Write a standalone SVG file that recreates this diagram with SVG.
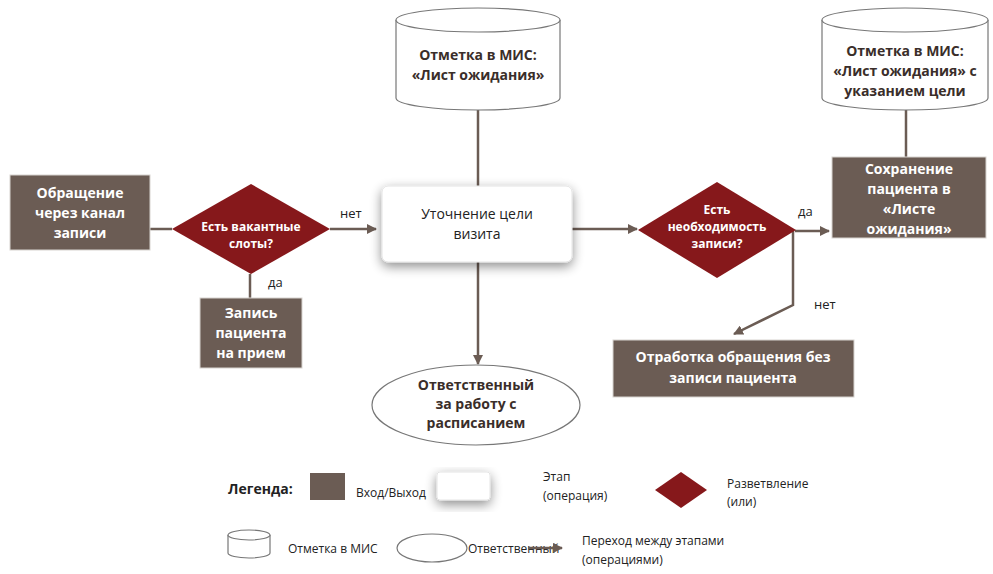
<svg xmlns="http://www.w3.org/2000/svg" width="993" height="574" viewBox="0 0 993 574">
<defs>
<style>
text{font-family:"Open Sans","Liberation Sans",sans-serif;}
.io{fill:#6b5c54;stroke:#d8d4d0;stroke-width:1}
.iot{fill:#fff;font-size:14px;font-weight:bold;text-anchor:middle}
.dm{fill:#86181b}
.dmt{fill:#fff;font-size:12px;font-weight:bold;text-anchor:middle}
.cyl{fill:#fff;stroke:#777;stroke-width:1.2}
.dt{fill:#3a2e2a;font-size:14px;font-weight:bold;text-anchor:middle}
.ln{stroke:#6b5c54;stroke-width:2.5;fill:none}
.lb{fill:#222;font-size:13px}
.lg{fill:#222;font-size:12px}
</style>
<marker id="ar" viewBox="0 0 10 10" refX="9" refY="5" markerWidth="4" markerHeight="4" orient="auto"><path d="M0,0L10,5L0,10z" fill="#6b5c54"/></marker>
<filter id="sh" x="-30%" y="-30%" width="160%" height="170%"><feGaussianBlur in="SourceAlpha" stdDeviation="6"/><feOffset dy="4"/><feComponentTransfer><feFuncA type="linear" slope="0.45"/></feComponentTransfer><feMerge><feMergeNode/><feMergeNode in="SourceGraphic"/></feMerge></filter>
</defs>
<rect width="993" height="574" fill="#fff"/>
<g id="connectors">
<line class="ln" x1="150" y1="229" x2="172" y2="229"/>
<line class="ln" x1="330" y1="229" x2="376" y2="229" marker-end="url(#ar)"/>
<text class="lb" x="340" y="218">нет</text>
<line class="ln" x1="250" y1="274" x2="250" y2="298"/>
<text class="lb" x="268" y="287">да</text>
<line class="ln" x1="478" y1="110" x2="478" y2="186"/>
<line class="ln" x1="478" y1="262" x2="478" y2="364" marker-end="url(#ar)"/>
<line class="ln" x1="572" y1="229" x2="637" y2="229" marker-end="url(#ar)"/>
<line class="ln" x1="795" y1="231" x2="829" y2="231" marker-end="url(#ar)"/>
<text class="lb" x="798" y="216">да</text>
<line class="ln" x1="906" y1="110" x2="906" y2="157"/>
<polyline class="ln" points="793,231 793,305 734,334" marker-end="url(#ar)"/>
<text class="lb" x="814" y="309">нет</text>
</g>
<g id="n1"><rect class="io" x="10" y="175" width="140" height="75"/><text class="iot" x="80" y="198">Обращение</text><text class="iot" x="80" y="218">через канал</text><text class="iot" x="80" y="238">записи</text></g>
<g id="d1"><polygon class="dm" points="172,229 251,184 330,229 251,274"/><text class="dmt" x="251" y="231">Есть вакантные</text><text class="dmt" x="251" y="248">слоты?</text></g>
<g id="n2"><rect class="io" x="200" y="298" width="102" height="70"/><text class="iot" x="251" y="318">Запись</text><text class="iot" x="251" y="338">пациента</text><text class="iot" x="251" y="358">на прием</text></g>
<g id="stage"><rect x="382" y="186" width="190" height="76" rx="6" fill="#fff" stroke="#e4e4e4" filter="url(#sh)"/><text x="477" y="219" font-size="14" text-anchor="middle" fill="#222">Уточнение цели</text><text x="477" y="239" font-size="14" text-anchor="middle" fill="#222">визита</text></g>
<g id="c1"><path class="cyl" d="M396,20 A82,12 0 0 1 560,20 V98 A82,12 0 0 1 396,98 Z"/><path class="cyl" d="M396,20 A82,12 0 0 0 560,20" fill="none"/><text class="dt" x="478" y="60">Отметка в МИС:</text><text class="dt" x="478" y="80">«Лист ожидания»</text></g>
<g id="e1"><ellipse cx="476" cy="405" rx="104" ry="40" fill="#fff" stroke="#777" stroke-width="1.2"/><text class="dt" x="476" y="390">Ответственный</text><text class="dt" x="476" y="409">за работу с</text><text class="dt" x="476" y="428">расписанием</text></g>
<g id="d2"><polygon class="dm" points="638,230 717,182 796,230 717,278"/><text class="dmt" x="717" y="214">Есть</text><text class="dmt" x="717" y="231">необходимость</text><text class="dmt" x="717" y="248">записи?</text></g>
<g id="n3"><rect class="io" x="832" y="157" width="154" height="81"/><text class="iot" x="909" y="174">Сохранение</text><text class="iot" x="909" y="194">пациента в</text><text class="iot" x="909" y="214">«Листе</text><text class="iot" x="909" y="234">ожидания»</text></g>
<g id="c2"><path class="cyl" d="M822,20 A83,12 0 0 1 988,20 V98 A83,12 0 0 1 822,98 Z"/><path class="cyl" d="M822,20 A83,12 0 0 0 988,20" fill="none"/><text class="dt" x="905" y="56">Отметка в МИС:</text><text class="dt" x="905" y="76">«Лист ожидания» с</text><text class="dt" x="905" y="96">указанием цели</text></g>
<g id="n4"><rect class="io" x="613" y="340" width="241" height="57"/><text class="iot" x="733" y="362">Отработка обращения без</text><text class="iot" x="733" y="383">записи пациента</text></g>
<g id="legend">
<text x="228" y="494" font-size="14" font-weight="bold" fill="#222">Легенда:</text>
<rect x="310" y="473" width="35" height="27" fill="#6b5c54"/>
<text class="lg" x="356" y="497">Вход/Выход</text>
<rect x="437" y="472" width="53" height="28" rx="3" fill="#fff" stroke="#e4e4e4" filter="url(#sh)"/>
<text class="lg" x="543" y="481">Этап</text><text class="lg" x="543" y="500">(операция)</text>
<polygon class="dm" points="655,490 681,472 707,490 681,508"/>
<text class="lg" x="727" y="488">Разветвление</text><text class="lg" x="727" y="506">(или)</text>
<path class="cyl" d="M228,535 A21,5 0 0 1 270,535 V553 A21,5 0 0 1 228,553 Z"/><path class="cyl" d="M228,535 A21,5 0 0 0 270,535" fill="none"/>
<text class="lg" x="288" y="553">Отметка в МИС</text>
<ellipse cx="432" cy="548" rx="35" ry="14" fill="#fff" stroke="#777" stroke-width="1.2"/>
<text class="lg" x="468" y="553">Ответственный</text>
<line class="ln" x1="528" y1="548" x2="562" y2="548" stroke-width="2" marker-end="url(#ar)"/>
<text class="lg" x="582" y="545">Переход между этапами</text><text class="lg" x="582" y="564">(операциями)</text>
</g>
</svg>
